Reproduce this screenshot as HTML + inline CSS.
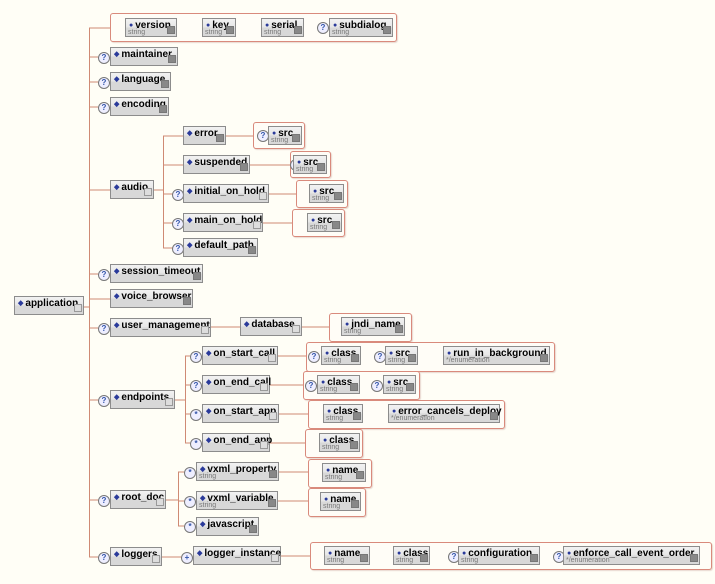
<!DOCTYPE html>
<html><head><meta charset="utf-8"><style>
body{margin:0;width:715px;height:584px;background:#fffef6;position:relative;overflow:hidden;font-family:"Liberation Sans",sans-serif}
.n{position:absolute;height:19px;border:1px solid #8c8c8c;background:linear-gradient(#f2f2f2 0,#e6e6e6 50%,#d8d8d8 51%,#d8d8d8 100%);box-sizing:border-box}
.n b{position:absolute;left:3px;top:1px;font-size:10px;line-height:11px;color:#000;white-space:nowrap}
.n b i{font-style:normal;color:#2a3a9a;font-size:7px;margin-right:2px;vertical-align:1px}
.n s{position:absolute;left:2px;top:10px;font-size:7px;line-height:8px;color:#777;text-decoration:none;white-space:nowrap}
.n u{position:absolute;right:1px;top:7px;width:6px;height:6px;background:#888;border:1px solid #777}
.n u.o{background:#ddd;border:1px solid #999}
.g{position:absolute;border:1px solid #d98a7c;border-radius:3px;background:#fffdf7;box-shadow:1px 1px 1px #e8d8d0;box-sizing:border-box}
.q{position:absolute;width:10px;height:10px;border:1px solid #777;border-radius:50%;background:#eef;font:bold 8px/10px "Liberation Sans",sans-serif;color:#35a;text-align:center}
svg{position:absolute;left:0;top:0}
</style></head><body>
<svg width="715" height="584"><g stroke="#cf8a74" stroke-width="1" fill="none">
<path d="M84 307H89M89.5 28V557M89 28H110M89 57H98M89 82H98M89 107H98M89 190H110M89 274H98M89 299H110M89 328H98M89 400H98M89 500H98M89 557H98"/>
<path d="M154 190H163M163.5 136V248M163 136H183M163 165H183M163 194H176M163 223H176M163 248H176"/>
<path d="M226 136H253M250 165H290M269 194H296M263 223H292"/>
<path d="M211 327H240M302 327H329"/>
<path d="M175 400H185M185.5 356V443M185 356H190M185 385H190M185 414H190M185 443H190M278 356H306M270 385H303M279 414H308M270 443H305"/>
<path d="M166 500H178M178.5 472V526M178 472H184M178 501H184M178 526H184M279 472H308M278 501H308"/>
<path d="M162 557H181M191 557H193M281 556H310"/>
</g></svg>

<div class="n" style="left:14px;top:296px;width:70px"><b><i>◆</i>application</b><u class="o"></u></div>

<div class="g" style="left:110px;top:13px;width:287px;height:29px"></div>
<div class="n" style="left:125px;top:18px;width:52px"><b><i>●</i>version</b><s>string</s><u></u></div>
<div class="n" style="left:202px;top:18px;width:34px"><b><i>●</i>key</b><s>string</s><u></u></div>
<div class="n" style="left:261px;top:18px;width:43px"><b><i>●</i>serial</b><s>string</s><u></u></div>
<div class="q" style="left:317px;top:22px">?</div>
<div class="n" style="left:329px;top:18px;width:64px"><b><i>●</i>subdialog</b><s>string</s><u></u></div>

<div class="q" style="left:98px;top:52px">?</div>
<div class="n" style="left:110px;top:47px;width:68px"><b><i>◆</i>maintainer</b><u></u></div>
<div class="q" style="left:98px;top:77px">?</div>
<div class="n" style="left:110px;top:72px;width:61px"><b><i>◆</i>language</b><u></u></div>
<div class="q" style="left:98px;top:102px">?</div>
<div class="n" style="left:110px;top:97px;width:59px"><b><i>◆</i>encoding</b><u></u></div>

<div class="n" style="left:110px;top:180px;width:44px"><b><i>◆</i>audio</b><u class="o"></u></div>
<div class="n" style="left:183px;top:126px;width:43px"><b><i>◆</i>error</b><u></u></div>
<div class="g" style="left:253px;top:122px;width:52px;height:27px"></div>
<div class="q" style="left:257px;top:130px">?</div>
<div class="n" style="left:268px;top:126px;width:34px"><b><i>●</i>src</b><s>string</s><u></u></div>
<div class="n" style="left:183px;top:155px;width:67px"><b><i>◆</i>suspended</b><u></u></div>
<div class="g" style="left:290px;top:151px;width:41px;height:27px"></div>
<div class="q" style="left:290px;top:159px">?</div>
<div class="n" style="left:293px;top:155px;width:34px"><b><i>●</i>src</b><s>string</s><u></u></div>
<div class="q" style="left:172px;top:189px">?</div>
<div class="n" style="left:183px;top:184px;width:86px"><b><i>◆</i>initial_on_hold</b><u class="o"></u></div>
<div class="g" style="left:296px;top:180px;width:52px;height:28px"></div>
<div class="n" style="left:309px;top:184px;width:35px"><b><i>●</i>src</b><s>string</s><u></u></div>
<div class="q" style="left:172px;top:218px">?</div>
<div class="n" style="left:183px;top:213px;width:80px"><b><i>◆</i>main_on_hold</b><u class="o"></u></div>
<div class="g" style="left:292px;top:209px;width:53px;height:28px"></div>
<div class="n" style="left:307px;top:213px;width:35px"><b><i>●</i>src</b><s>string</s><u></u></div>
<div class="q" style="left:172px;top:243px">?</div>
<div class="n" style="left:183px;top:238px;width:75px"><b><i>◆</i>default_path</b><u></u></div>

<div class="q" style="left:98px;top:269px">?</div>
<div class="n" style="left:110px;top:264px;width:93px"><b><i>◆</i>session_timeout</b><u></u></div>
<div class="n" style="left:110px;top:289px;width:83px"><b><i>◆</i>voice_browser</b><u></u></div>

<div class="q" style="left:98px;top:323px">?</div>
<div class="n" style="left:110px;top:318px;width:101px"><b><i>◆</i>user_management</b><u class="o"></u></div>
<div class="n" style="left:240px;top:317px;width:62px"><b><i>◆</i>database</b><u class="o"></u></div>
<div class="g" style="left:329px;top:313px;width:83px;height:29px"></div>
<div class="n" style="left:341px;top:317px;width:64px"><b><i>●</i>jndi_name</b><s>string</s><u></u></div>

<div class="q" style="left:98px;top:395px">?</div>
<div class="n" style="left:110px;top:390px;width:65px"><b><i>◆</i>endpoints</b><u class="o"></u></div>
<div class="q" style="left:190px;top:351px">?</div>
<div class="n" style="left:202px;top:346px;width:76px"><b><i>◆</i>on_start_call</b><u class="o"></u></div>
<div class="g" style="left:306px;top:342px;width:249px;height:30px"></div>
<div class="q" style="left:308px;top:351px">?</div>
<div class="n" style="left:321px;top:346px;width:40px"><b><i>●</i>class</b><s>string</s><u></u></div>
<div class="q" style="left:374px;top:351px">?</div>
<div class="n" style="left:385px;top:346px;width:33px"><b><i>●</i>src</b><s>string</s><u></u></div>
<div class="n" style="left:443px;top:346px;width:107px"><b><i>●</i>run_in_background</b><s>*/enumeration</s><u></u></div>
<div class="q" style="left:190px;top:380px">?</div>
<div class="n" style="left:202px;top:375px;width:68px"><b><i>◆</i>on_end_call</b><u class="o"></u></div>
<div class="g" style="left:303px;top:371px;width:117px;height:29px"></div>
<div class="q" style="left:305px;top:380px">?</div>
<div class="n" style="left:317px;top:375px;width:43px"><b><i>●</i>class</b><s>string</s><u></u></div>
<div class="q" style="left:371px;top:380px">?</div>
<div class="n" style="left:383px;top:375px;width:33px"><b><i>●</i>src</b><s>string</s><u></u></div>
<div class="q" style="left:190px;top:409px">*</div>
<div class="n" style="left:202px;top:404px;width:77px"><b><i>◆</i>on_start_app</b><u class="o"></u></div>
<div class="g" style="left:308px;top:400px;width:197px;height:29px"></div>
<div class="n" style="left:323px;top:404px;width:40px"><b><i>●</i>class</b><s>string</s><u></u></div>
<div class="n" style="left:388px;top:404px;width:112px"><b><i>●</i>error_cancels_deploy</b><s>*/enumeration</s><u></u></div>
<div class="q" style="left:190px;top:438px">*</div>
<div class="n" style="left:202px;top:433px;width:68px"><b><i>◆</i>on_end_app</b><u class="o"></u></div>
<div class="g" style="left:305px;top:429px;width:58px;height:29px"></div>
<div class="n" style="left:319px;top:433px;width:41px"><b><i>●</i>class</b><s>string</s><u></u></div>

<div class="q" style="left:98px;top:495px">?</div>
<div class="n" style="left:110px;top:490px;width:56px"><b><i>◆</i>root_doc</b><u class="o"></u></div>
<div class="q" style="left:184px;top:467px">*</div>
<div class="n" style="left:196px;top:462px;width:83px"><b><i>◆</i>vxml_property</b><s>string</s><u></u></div>
<div class="g" style="left:308px;top:459px;width:64px;height:29px"></div>
<div class="n" style="left:322px;top:463px;width:44px"><b><i>●</i>name</b><s>string</s><u></u></div>
<div class="q" style="left:184px;top:496px">*</div>
<div class="n" style="left:196px;top:491px;width:82px"><b><i>◆</i>vxml_variable</b><s>string</s><u></u></div>
<div class="g" style="left:308px;top:488px;width:58px;height:29px"></div>
<div class="n" style="left:320px;top:492px;width:41px"><b><i>●</i>name</b><s>string</s><u></u></div>
<div class="q" style="left:184px;top:521px">*</div>
<div class="n" style="left:196px;top:517px;width:63px"><b><i>◆</i>javascript</b><u></u></div>

<div class="q" style="left:98px;top:552px">?</div>
<div class="n" style="left:110px;top:547px;width:52px"><b><i>◆</i>loggers</b><u class="o"></u></div>
<div class="q" style="left:181px;top:552px">+</div>
<div class="n" style="left:193px;top:546px;width:88px"><b><i>◆</i>logger_instance</b><u class="o"></u></div>
<div class="g" style="left:310px;top:542px;width:402px;height:28px"></div>
<div class="n" style="left:324px;top:546px;width:46px"><b><i>●</i>name</b><s>string</s><u></u></div>
<div class="n" style="left:393px;top:546px;width:37px"><b><i>●</i>class</b><s>string</s><u></u></div>
<div class="q" style="left:448px;top:551px">?</div>
<div class="n" style="left:458px;top:546px;width:82px"><b><i>●</i>configuration</b><s>string</s><u></u></div>
<div class="q" style="left:553px;top:551px">?</div>
<div class="n" style="left:563px;top:546px;width:137px"><b><i>●</i>enforce_call_event_order</b><s>*/enumeration</s><u></u></div>
</body></html>
